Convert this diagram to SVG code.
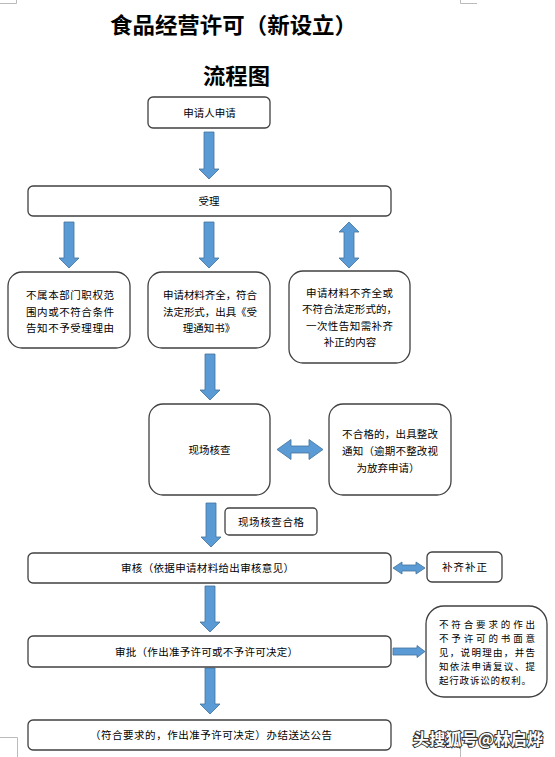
<svg xmlns="http://www.w3.org/2000/svg" width="555" height="757" viewBox="0 0 555 757">
<style>
.box{fill:#fff;stroke:#404040;stroke-width:1.3}
.arr{fill:#5B9BD5;stroke:#41719C;stroke-width:0.8}
.t{font-family:"Noto Sans CJK SC","Noto Sans CJK JP",sans-serif;font-size:10.5px;fill:#000;text-anchor:middle}
.tl{font-family:"Noto Sans CJK SC","Noto Sans CJK JP",sans-serif;font-size:9.5px;fill:#000}
.title{font-family:"Noto Sans CJK SC","Noto Sans CJK JP",sans-serif;font-size:22px;font-weight:bold;fill:#000;text-anchor:middle}
.mark{stroke:#bbb;stroke-width:1;fill:none}
</style>
<rect width="555" height="757" fill="#fff"/>
<g id="corner-marks">
<path class="mark" d="M0 3.5H16.5V0M460.5 0V3.5H477M0 737.5H17.5V757M460.5 757V737.5H477"/>
</g>
<g id="title">
<text class="title" x="233.5" y="32.5" textLength="247" lengthAdjust="spacingAndGlyphs">食品经营许可（新设立）</text>
<text class="title" x="236.5" y="83.5" textLength="67" lengthAdjust="spacingAndGlyphs">流程图</text>
</g>
<g id="connectors">
<path class="arr" d="M204 132H214V169H219L209 179L199 169H204Z"/>
<path class="arr" d="M64 222H74V258H79L69 268L59 258H64Z"/>
<path class="arr" d="M204 222H214V258H219L209 268L199 258H204Z"/>
<path class="arr" d="M349 222L359 232H354V258H359L349 268L339 258H344V232H339Z"/>
<path class="arr" d="M205 354H215V390H220L210 400L200 390H205Z"/>
<path class="arr" d="M277 449.5L291 439.5V446H309V439.5L323 449.5L309 459.5V453H291V459.5Z"/>
<path class="arr" d="M206 503H216V537H221L211 547L201 537H206Z"/>
<path class="arr" d="M205 586H215V622H220L210 632L200 622H205Z"/>
<path class="arr" d="M205 668H215V704H220L210 714L200 704H205Z"/>
<path class="arr" d="M393 568L402 562V565H416V562L425 568L416 574V571H402V574Z"/>
<path class="arr" d="M393 648H417V645.5L425 651.5L417 657.5V655H393Z"/>
</g>
<g id="n1">
<rect class="box" x="148" y="97" width="122" height="31" rx="5"/>
<text class="t" x="209.5" y="116.5">申请人申请</text>
</g>
<g id="n2">
<rect class="box" x="28" y="186" width="363" height="30" rx="5"/>
<text class="t" x="209" y="205">受理</text>
</g>
<g id="n3">
<rect class="box" x="8" y="272" width="122" height="76" rx="14"/>
<text class="t" x="70" y="299" textLength="88">不属本部门职权范</text>
<text class="t" x="70" y="316" textLength="88">围内或不符合条件</text>
<text class="t" x="70" y="332" textLength="88">告知不予受理理由</text>
</g>
<g id="n4">
<rect class="box" x="148" y="272" width="122" height="76" rx="14"/>
<text class="t" x="210" y="299" textLength="94">申请材料齐全，符合</text>
<text class="t" x="210" y="316" textLength="94">法定形式，出具《受</text>
<text class="t" x="209" y="332">理通知书》</text>
</g>
<g id="n5">
<rect class="box" x="289" y="271" width="121" height="92" rx="14"/>
<text class="t" x="349.5" y="296.5" textLength="87">申请材料不齐全或</text>
<text class="t" x="349.5" y="313" textLength="95">不符合法定形式的，</text>
<text class="t" x="349.5" y="329.5" textLength="87">一次性告知需补齐</text>
<text class="t" x="350" y="346">补正的内容</text>
</g>
<g id="n6">
<rect class="box" x="149" y="404" width="121" height="91" rx="14"/>
<text class="t" x="209.5" y="454">现场核查</text>
</g>
<g id="n7">
<rect class="box" x="329" y="404" width="122" height="91" rx="14"/>
<text class="t" x="390" y="437.5" textLength="96">不合格的，出具整改</text>
<text class="t" x="390" y="454.5" textLength="96">通知（逾期不整改视</text>
<text class="t" x="388" y="471.5">为放弃申请）</text>
</g>
<g id="n8">
<rect class="box" x="225" y="508" width="92" height="27" rx="4"/>
<text class="t" x="271" y="526" textLength="66">现场核查合格</text>
</g>
<g id="n9">
<rect class="box" x="28" y="553" width="363" height="30" rx="5"/>
<text class="t" x="207.5" y="572" textLength="173">审核（依据申请材料给出审核意见）</text>
</g>
<g id="n10">
<rect class="box" x="427" y="552" width="75" height="30" rx="5"/>
<text class="t" x="464.5" y="571" textLength="45">补齐补正</text>
</g>
<g id="n11">
<rect class="box" x="28" y="636" width="363" height="31" rx="5"/>
<text class="t" x="206.5" y="656" textLength="183">审批（作出准予许可或不予许可决定）</text>
</g>
<g id="n12">
<rect class="box" x="426" y="606" width="121" height="91" rx="18"/>
<text class="tl" x="439" y="627.5" textLength="96">不符合要求的作出</text>
<text class="tl" x="439" y="641.5" textLength="96">不予许可的书面意</text>
<text class="tl" x="439" y="655.5" textLength="96">见，说明理由，并告</text>
<text class="tl" x="439" y="669.5" textLength="96">知依法申请复议、提</text>
<text class="tl" x="439" y="683.5" textLength="92">起行政诉讼的权利。</text>
</g>
<g id="n13">
<rect class="box" x="28" y="720" width="363" height="30" rx="5"/>
<text class="t" x="211" y="739" textLength="242">（符合要求的，作出准予许可决定）办结送达公告</text>
</g>
<g id="watermark">
<text x="478" y="745" font-family="Noto Sans CJK SC, sans-serif" font-size="16" font-weight="bold" text-anchor="middle" fill="#fff" stroke="#333" stroke-width="2" paint-order="stroke" textLength="130">头搜狐号@林启烨</text>
</g>
</svg>
